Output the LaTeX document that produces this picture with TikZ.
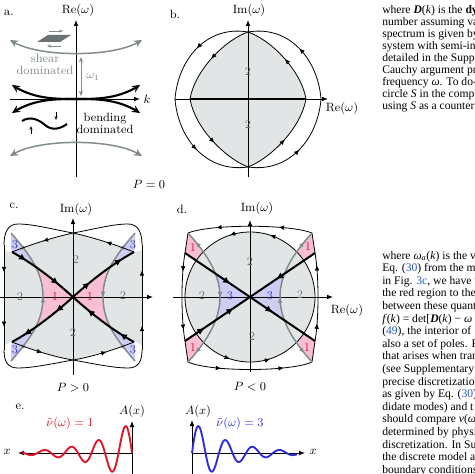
\documentclass[tikz,border=0pt]{standalone}
\usepackage{fontspec}
\usetikzlibrary{arrows.meta,decorations.markings}
\newfontfamily\tf{Liberation Serif}
\definecolor{gf}{RGB}{226,229,229}
\definecolor{gl}{RGB}{128,138,138}
\definecolor{pk}{RGB}{247,190,212}
\definecolor{bf}{RGB}{206,206,242}
\definecolor{rd}{RGB}{210,30,60}
\definecolor{bl}{RGB}{55,55,200}
\definecolor{lab}{RGB}{110,116,116}
\definecolor{lk}{RGB}{40,90,190}
\definecolor{wr}{RGB}{225,20,40}
\definecolor{wb}{RGB}{45,45,215}
\definecolor{plate}{RGB}{105,115,115}
\newcommand{\lkc}[1]{\textcolor{lk}{#1}}
\begin{document}
\begin{tikzpicture}[x=0.75pt,y=-0.75pt,
  lbl/.style={font=\fontsize{9}{10}\selectfont, inner sep=0pt},
  num/.style={font=\fontsize{9}{10}\selectfont, inner sep=0pt, text=lab},
  ax/.style={line width=0.6pt,-{Latex[length=4.5pt,width=3.5pt]}},
  cont/.style={line width=0.6pt},
  xl/.style={line width=1.5pt},
  garc/.style={draw=gl,line width=1.1pt},
  am/.style={postaction={decorate,decoration={markings,mark=at position #1 with {\arrow{Latex[length=4pt,width=3.5pt]}}}}},
  amr/.style={postaction={decorate,decoration={markings,mark=at position #1 with {\arrowreversed{Latex[length=4pt,width=3.5pt]}}}}},
  amb/.style={postaction={decorate,decoration={markings,mark=at position #1 with {\arrow{Latex[length=5.5pt,width=5pt]}}}}},
  tx/.style={anchor=base west, inner sep=0pt, font=\tf\fontsize{8.7}{10}\selectfont},
  st/.style={{Stealth[length=6pt,width=5.5pt]}-{Stealth[length=6pt,width=5.5pt]}}
]
\fill[white] (0,0) rectangle (474,474);
\useasboundingbox (0,0) rectangle (474,474);

%%%%%%%%%%%%%%%% Panel a
\node[lbl] (la) at (9,13) {a.};
\draw[ax] (76,177) -- (76,20);
\node[lbl] (rea) at (78,11) {$\mathrm{Re}(\omega)$};
\draw[ax] (10,99) -- (140,99);
\node[lbl] (ka) at (147,99) {$k$};
\draw[gl,line width=1.1pt,st] (10,40) .. controls (40,57.3) and (112,57.3) .. (142,40);
\draw[gl,line width=1.1pt,st] (10,156) .. controls (40,138.7) and (112,138.7) .. (142,156);
\draw[line width=1.6pt,st] plot[domain=-64:64,samples=61] ({76+\x},{99-14*pow(abs(\x)/64,3)});
\draw[line width=1.6pt,st] plot[domain=-64:64,samples=61] ({76+\x},{99+14*pow(abs(\x)/64,3)});
\draw[gl,line width=0.6pt,{Stealth[length=4pt]}-{Stealth[length=4pt]}] (81,57) -- (81,96);
\node[lbl,text=gl] (om1) at (93,77) {$\omega_1$};
\fill[plate] (37,42) -- (48,35) -- (71,35) -- (60,42) -- cycle;
\draw[gl,line width=0.6pt,-{Stealth[length=3pt]}] (49,31) -- (63,31);
\draw[gl,line width=0.6pt,-{Stealth[length=3pt]}] (61,46) -- (47,46);
\node[lbl,text=gl,align=center] (shear) at (45,64) {shear\\[-1pt]dominated};
\draw[line width=1.5pt] (22,121) .. controls (30,116) and (38,119) .. (45,125) .. controls (52,131) and (60,129) .. (67,124);
\draw[line width=0.6pt,-{Stealth[length=3pt]}] (56,112) -- (56,120);
\draw[line width=0.6pt,-{Stealth[length=3pt]}] (31,134) -- (31,126);
\node[lbl,align=center] (bend) at (105,123) {bending\\[-1pt]dominated};
\node[lbl] (p0) at (149,184) {$P=0$};

%%%%%%%%%%%%%%%% Panel b
\node[lbl] (lb) at (175,14) {b.};
\fill[gf] (190,99) .. controls (195,70) and (225,40) .. (248,32) .. controls (271,40) and (301,70) .. (306,99) .. controls (301,128) and (271,158) .. (248,167) .. controls (225,158) and (195,128) .. (190,99) -- cycle;
\draw[ax] (175,99) -- (328,99);
\draw[ax] (248,177) -- (248,20);
\draw[xl] (190,99) -- (306,99);
\draw[cont,am=0.5] (248,32) .. controls (225,40) and (195,70) .. (190,99);
\draw[cont,am=0.55] (190,99) .. controls (195,128) and (225,158) .. (248,167);
\draw[cont,am=0.5] (248,167) .. controls (271,158) and (301,128) .. (306,99);
\draw[cont,am=0.5] (306,99) .. controls (301,70) and (271,40) .. (248,32);
\draw[cont,am=0.5] (248,32) .. controls (206,25) and (178,60) .. (175,99);
\draw[cont,am=0.5] (175,99) .. controls (178,138) and (206,173) .. (248,167);
\draw[cont,am=0.5] (248,167) .. controls (290,173) and (318,138) .. (321,99);
\draw[cont,am=0.5] (321,99) .. controls (318,60) and (290,25) .. (248,32);
\node[num] (b2a) at (248,72) {2};
\node[num] (b2b) at (248,125) {2};
\node[lbl] (imb) at (249,11) {$\mathrm{Im}(\omega)$};
\node[lbl] (reb) at (342,109) {$\mathrm{Re}(\omega)$};

%%%%%%%%%%%%%%%% Panel c
\node[lbl] (lc) at (14,206) {c.};
\fill[gf] (4,250) -- (12,252) .. controls (35,243) and (55,237) .. (73,233) .. controls (91,237) and (111,243) .. (134,252) -- (142,250) -- (142,345) -- (134,342) .. controls (111,351) and (91,357) .. (73,360) .. controls (55,357) and (35,351) .. (12,342) -- (4,345) -- cycle;
\begin{scope}
\clip (11,233) .. controls (30,255) and (43,272) .. (43,297) .. controls (43,322) and (30,339) .. (11,361) -- (73,361) -- (73,233) -- cycle;
\fill[pk] (12,252) .. controls (32,263) and (52,278) .. (73,297) .. controls (52,316) and (32,331) .. (12,342) -- cycle;
\end{scope}
\begin{scope}
\clip (135,233) .. controls (116,255) and (103,272) .. (103,297) .. controls (103,322) and (116,339) .. (135,361) -- (73,361) -- (73,233) -- cycle;
\fill[pk] (134,252) .. controls (114,263) and (94,278) .. (73,297) .. controls (94,316) and (114,331) .. (134,342) -- cycle;
\end{scope}
\begin{scope}
\clip (11,233) .. controls (30,255) and (43,272) .. (43,297) .. controls (43,322) and (30,339) .. (11,361) -- cycle;
\fill[bf] (0,200) -- (12,252) .. controls (32,263) and (52,278) .. (73,297) -- (73,200) -- cycle;
\fill[bf] (0,394) -- (12,342) .. controls (32,331) and (52,316) .. (73,297) -- (73,394) -- cycle;
\end{scope}
\begin{scope}
\clip (135,233) .. controls (116,255) and (103,272) .. (103,297) .. controls (103,322) and (116,339) .. (135,361) -- cycle;
\fill[bf] (146,200) -- (134,252) .. controls (114,263) and (94,278) .. (73,297) -- (73,200) -- cycle;
\fill[bf] (146,394) -- (134,342) .. controls (114,331) and (94,316) .. (73,297) -- (73,394) -- cycle;
\end{scope}
\draw[ax] (73,375) -- (73,218);
\draw[ax] (0,297) -- (153,297);
\draw[garc,am=0.5,am=0.9,amr=0.1] (11,361) .. controls (30,339) and (43,322) .. (43,297) .. controls (43,272) and (30,255) .. (11,233);
\draw[garc,am=0.5,am=0.9,amr=0.1] (135,233) .. controls (116,255) and (103,272) .. (103,297) .. controls (103,322) and (116,339) .. (135,361);
\draw[cont,am=0.78] (142,245) .. controls (142,232) and (138,224) .. (128,224) .. controls (113,224) and (95,229) .. (73,233) .. controls (55,237) and (35,243) .. (12,252);
\draw[cont,am=0.2] (134,252) .. controls (111,243) and (91,237) .. (73,233) .. controls (51,229) and (33,224) .. (18,224) .. controls (8,224) and (4,232) .. (4,245);
\draw[cont,am=0.26,am=0.78] (4,245) -- (4,350);
\draw[cont,am=0.23,am=0.76] (142,350) -- (142,245);
\draw[cont,am=0.22] (12,342) .. controls (35,351) and (55,357) .. (73,360) .. controls (95,364) and (114,368) .. (128,368) .. controls (138,368) and (142,362) .. (142,350);
\draw[cont,am=0.8] (4,350) .. controls (4,362) and (8,368) .. (18,368) .. controls (32,368) and (51,364) .. (73,360) .. controls (91,357) and (111,351) .. (134,342);
\draw[xl,amb=0.22,amb=0.75] (12,252) .. controls (32,263) and (52,278) .. (73,297);
\draw[xl,amb=0.3,amb=0.82] (73,297) .. controls (94,278) and (114,263) .. (134,252);
\draw[xl,amb=0.22,amb=0.75] (134,342) .. controls (114,331) and (94,316) .. (73,297);
\draw[xl,amb=0.3,amb=0.82] (73,297) .. controls (52,316) and (32,331) .. (12,342);
\node[lbl] (imc) at (76,209) {$\mathrm{Im}(\omega)$};
\node[num] (c2a) at (76,260) {2};
\node[num] (c2b) at (20,297) {2};
\node[num] (c2c) at (123,296) {2};
\node[num] (c2d) at (73,333) {2};
\node[lbl,text=rd] (c1a) at (55,297) {1};
\node[lbl,text=rd] (c1b) at (90,297) {1};
\node[lbl,text=bl] (c3a) at (15,245) {3};
\node[lbl,text=bl] (c3b) at (133,245) {3};
\node[lbl,text=bl] (c3c) at (15,350) {3};
\node[lbl,text=bl] (c3d) at (133,350) {3};
\node[lbl] (pc) at (73,388) {$P>0$};

%%%%%%%%%%%%%%%% Panel d
\node[lbl] (ld) at (182,209) {d.};
\begin{scope}
\clip (188,233) .. controls (208,255) and (220,275) .. (220,297) .. controls (220,319) and (208,340) .. (188,362) -- (150,362) -- (150,233) -- cycle;
\fill[pk] (188,233) -- (185,253) -- (250,297) -- (250,233) -- cycle;
\fill[pk] (188,362) -- (185,341) -- (250,297) -- (250,362) -- cycle;
\end{scope}
\begin{scope}
\clip (312,233) .. controls (292,255) and (280,275) .. (280,297) .. controls (280,319) and (292,340) .. (312,362) -- (350,362) -- (350,233) -- cycle;
\fill[pk] (312,233) -- (315,253) -- (250,297) -- (250,233) -- cycle;
\fill[pk] (312,362) -- (315,341) -- (250,297) -- (250,362) -- cycle;
\end{scope}
\fill[gf] plot[domain=0:360,samples=121] ({250+65*cos(\x)},{297-65*sin(\x)}) -- cycle;
\begin{scope}
\clip (188,233) .. controls (208,255) and (220,275) .. (220,297) .. controls (220,319) and (208,340) .. (188,362) -- (250,362) -- (250,233) -- cycle;
\fill[bf] (185,253) -- (250,297) -- (185,341) -- cycle;
\end{scope}
\begin{scope}
\clip (312,233) .. controls (292,255) and (280,275) .. (280,297) .. controls (280,319) and (292,340) .. (312,362) -- (250,362) -- (250,233) -- cycle;
\fill[bf] (315,253) -- (250,297) -- (315,341) -- cycle;
\end{scope}
\draw[ax] (250,372) -- (250,220);
\draw[ax] (173,297) -- (333,297);
\draw[cont,am=0.2,am=0.3,am=0.7,am=0.8] plot[domain=0:360,samples=121] ({250+65*cos(\x)},{297-65*sin(\x)}) -- cycle;
\draw[cont,am=0.27,am=0.77] (312,233) .. controls (290,224) and (210,224) .. (188,233);
\draw[cont,am=0.27,am=0.77] (188,362) .. controls (210,372) and (290,372) .. (312,362);
\draw[cont,am=0.3,am=0.75] (188,233) -- (185,253) .. controls (181,275) and (181,319) .. (185,341) -- (188,362);
\draw[cont,am=0.3,am=0.75] (312,362) -- (315,341) .. controls (319,319) and (319,275) .. (315,253) -- (312,233);
\draw[garc,am=0.5,am=0.92,amr=0.08] (188,233) .. controls (208,255) and (220,275) .. (220,297) .. controls (220,319) and (208,340) .. (188,362);
\draw[garc,am=0.5,am=0.92,amr=0.08] (312,362) .. controls (292,340) and (280,319) .. (280,297) .. controls (280,275) and (292,255) .. (312,233);
\draw[xl,amb=0.7] (185,253) -- (250,297);
\draw[xl,amb=0.35] (250,297) -- (315,341);
\draw[xl,amb=0.3,amb=0.75] (185,341) -- (250,297);
\draw[xl,amb=0.6] (315,253) -- (250,297);
\node[lbl] (imd) at (257,208) {$\mathrm{Im}(\omega)$};
\node[lbl] (red) at (347,310) {$\mathrm{Re}(\omega)$};
\node[num] (d2a) at (250,262) {2};
\node[num] (d2b) at (202,296) {2};
\node[num] (d2c) at (300,295) {2};
\node[num] (d2d) at (252,337) {2};
\node[lbl,text=bl] (d3a) at (230,296) {3};
\node[lbl,text=bl] (d3b) at (270,296) {3};
\node[lbl,text=rd] (d1a) at (193,248) {1};
\node[lbl,text=rd] (d1b) at (308,247) {1};
\node[lbl,text=rd] (d1c) at (193,348) {1};
\node[lbl,text=rd] (d1d) at (307,348) {1};
\node[lbl] (pd) at (250,387) {$P<0$};

%%%%%%%%%%%%%%%% Panel e
\node[lbl] (le) at (20,407) {e.};
\draw[ax] (132,474) -- (132,421);
\draw[ax] (132,453) -- (18,453);
\node[lbl] (xe1) at (7,452) {$x$};
\node[lbl] (ae1) at (132,411) {$A(x)$};
\draw[wr,line width=1.4pt] plot[domain=0:110,samples=220,smooth] ({132-\x},{453-32*exp(-\x/37)*sin(13.3333*\x)});
\node[lbl,text=wr] (nu1) at (70,423) {$\tilde{\nu}(\omega)=1$};
\draw[ax] (192,474) -- (192,420);
\draw[ax] (192,453) -- (305,453);
\node[lbl] (xe2) at (313,452) {$x$};
\node[lbl] (ae2) at (198,411) {$A(x)$};
\draw[wb,line width=1.4pt] plot[domain=0:105,samples=220,smooth] ({192+\x},{453-32*exp(-\x/37)*sin(13.3333*\x)});
\node[lbl,text=wb] (nu3) at (240,423) {$\tilde{\nu}(\omega)=3$};

%%%%%%%%%%%%%%%% text column
\begin{scope}
\clip (0,0) rectangle (474,474);
\node[tx] (t0) at (382,14.0) {where \textbf{\textit{D}}(\textit{k}) is the \textbf{dyn}};
\node[tx] (t1) at (382,26.0) {number assuming va};
\node[tx] (t2) at (382,38.0) {spectrum is given by};
\node[tx] (t3) at (382,50.0) {system with semi-inf};
\node[tx] (t4) at (382,62.0) {detailed in the Supp};
\node[tx] (t5) at (382,74.0) {Cauchy argument pr};
\node[tx] (t6) at (382,86.0) {frequency \textit{ω}. To do-};
\node[tx] (t7) at (382,98.0) {circle \textit{S} in the comp};
\node[tx] (t8) at (382,110.0) {using \textit{S} as a counter};
\node[tx] (u0) at (382,259.0) {where \textit{ω}\textsubscript{\textit{a}}(\textit{k}) is the va};
\node[tx] (u1) at (382,271.6) {Eq. (\lkc{30}) from the mo};
\node[tx] (u2) at (382,284.2) {in Fig. \lkc{3c}, we have va};
\node[tx] (u3) at (382,296.8) {the red region to the};
\node[tx] (u4) at (382,309.4) {between these quanti};
\node[tx] (u5) at (382,322.0) {\textit{f}(\textit{k}) = det[\textbf{\textit{D}}(\textit{k}) − \textit{ω}};
\node[tx] (u6) at (382,334.6) {(\lkc{49}), the interior of};
\node[tx] (u7) at (382,347.2) {also a set of poles. F};
\node[tx] (u8) at (382,359.8) {that arises when tran};
\node[tx] (u9) at (382,372.4) {(see Supplementary N};
\node[tx] (u10) at (382,385.0) {precise discretization};
\node[tx] (u11) at (382,397.6) {as given by Eq. (\lkc{30}),};
\node[tx] (u12) at (382,410.2) {didate modes) and t};
\node[tx] (u13) at (382,422.8) {should compare \textit{ν}(\textit{ω}};
\node[tx] (u14) at (382,435.4) {determined by physi};
\node[tx] (u15) at (382,448.0) {discretization. In Sup};
\node[tx] (u16) at (382,460.6) {the discrete model a};
\node[tx] (u17) at (382,473.2) {boundary conditions};
\end{scope}
\end{tikzpicture}
\end{document}
